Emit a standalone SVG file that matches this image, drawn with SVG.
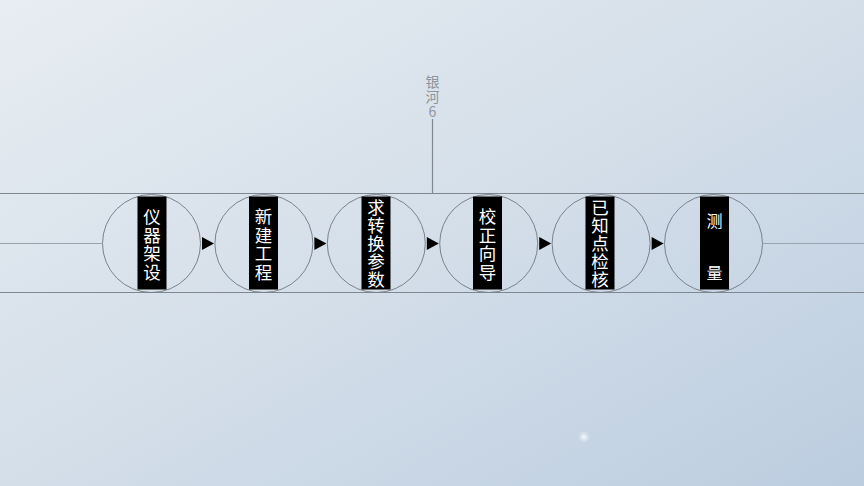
<svg xmlns="http://www.w3.org/2000/svg" width="864" height="486" viewBox="0 0 864 486">
  <defs>
    <linearGradient id="bg" x1="0" y1="0" x2="1" y2="1">
      <stop offset="0" stop-color="#e7edf2"/>
      <stop offset="0.45" stop-color="#d6e0ea"/>
      <stop offset="1" stop-color="#bccde0"/>
    </linearGradient>
    <radialGradient id="flare" cx="0.5" cy="0.5" r="0.5">
      <stop offset="0" stop-color="#ffffff" stop-opacity="1"/>
      <stop offset="0.3" stop-color="#ffffff" stop-opacity="0.5"/>
      <stop offset="1" stop-color="#ffffff" stop-opacity="0"/>
    </radialGradient>
    <polygon id="arrow" points="0,-6.5 12,0 0,6.5" fill="#000"/>
  </defs>
  <style>
    .rail { stroke: #7f8790; stroke-width: 1.2; fill: none; }
    .mid { stroke: #9aa3ad; stroke-width: 1; fill: none; }
    .ring { stroke: #7a828c; stroke-width: 1; fill: none; }
    .bar { fill: #000; }
    .lbl { fill: #fff; font-family: "Noto Sans CJK SC", "Noto Sans", sans-serif; font-size: 17.5px; text-anchor: middle; writing-mode: vertical-rl; text-orientation: upright; }
    .l4 { letter-spacing: 1px; }
    .l5 { letter-spacing: 0.5px; }
    .one { fill: #fff; font-family: "Noto Sans CJK SC", "Noto Sans", sans-serif; font-size: 16px; text-anchor: middle; dominant-baseline: central; }
    .top { fill: #8d959e; font-family: "Noto Sans CJK SC", "Noto Sans", sans-serif; font-size: 14px; text-anchor: middle; writing-mode: vertical-rl; text-orientation: upright; letter-spacing: 1px; }
  </style>
  <rect width="864" height="486" fill="url(#bg)"/>
  <circle cx="584" cy="437" r="6" fill="url(#flare)"/>

  <g id="connectors">
    <line class="rail" x1="0" y1="193.5" x2="864" y2="193.5"/>
    <line class="rail" x1="0" y1="292.5" x2="864" y2="292.5"/>
    <line class="mid" x1="0" y1="243.5" x2="102" y2="243.5"/>
    <line class="mid" x1="763" y1="243.5" x2="864" y2="243.5"/>
    <line class="rail" x1="432.5" y1="119" x2="432.5" y2="193.5"/>
    <use href="#arrow" x="202" y="243.5"/>
    <use href="#arrow" x="314.4" y="243.5"/>
    <use href="#arrow" x="426.8" y="243.5"/>
    <use href="#arrow" x="539.2" y="243.5"/>
    <use href="#arrow" x="651.6" y="243.5"/>
  </g>

  <g id="label-top">
    <text class="top" x="432.5" y="97">银河6</text>
  </g>

  <g id="node1">
    <circle class="ring" cx="151.5" cy="243.5" r="49"/>
    <rect class="bar" x="137.5" y="196.5" width="29" height="93"/>
    <text class="lbl l4" x="152" y="245">仪器架设</text>
  </g>
  <g id="node2">
    <circle class="ring" cx="263.9" cy="243.5" r="49"/>
    <rect class="bar" x="249" y="196.5" width="29" height="93"/>
    <text class="lbl l4" x="263.5" y="245">新建工程</text>
  </g>
  <g id="node3">
    <circle class="ring" cx="376.3" cy="243.5" r="49"/>
    <rect class="bar" x="361.5" y="196.5" width="29" height="93"/>
    <text class="lbl l5" x="376" y="243.5">求转换参数</text>
  </g>
  <g id="node4">
    <circle class="ring" cx="488.7" cy="243.5" r="49"/>
    <rect class="bar" x="473" y="196.5" width="29" height="93"/>
    <text class="lbl l4" x="487.5" y="245">校正向导</text>
  </g>
  <g id="node5">
    <circle class="ring" cx="601.1" cy="243.5" r="49"/>
    <rect class="bar" x="585.5" y="196.5" width="29" height="93"/>
    <text class="lbl l5" x="600" y="243.5">已知点检核</text>
  </g>
  <g id="node6">
    <circle class="ring" cx="713.5" cy="243.5" r="49"/>
    <rect class="bar" x="700" y="196.5" width="29" height="93"/>
    <text class="one" x="714.5" y="220">测</text>
    <text class="one" x="714.5" y="272">量</text>
  </g>
</svg>
